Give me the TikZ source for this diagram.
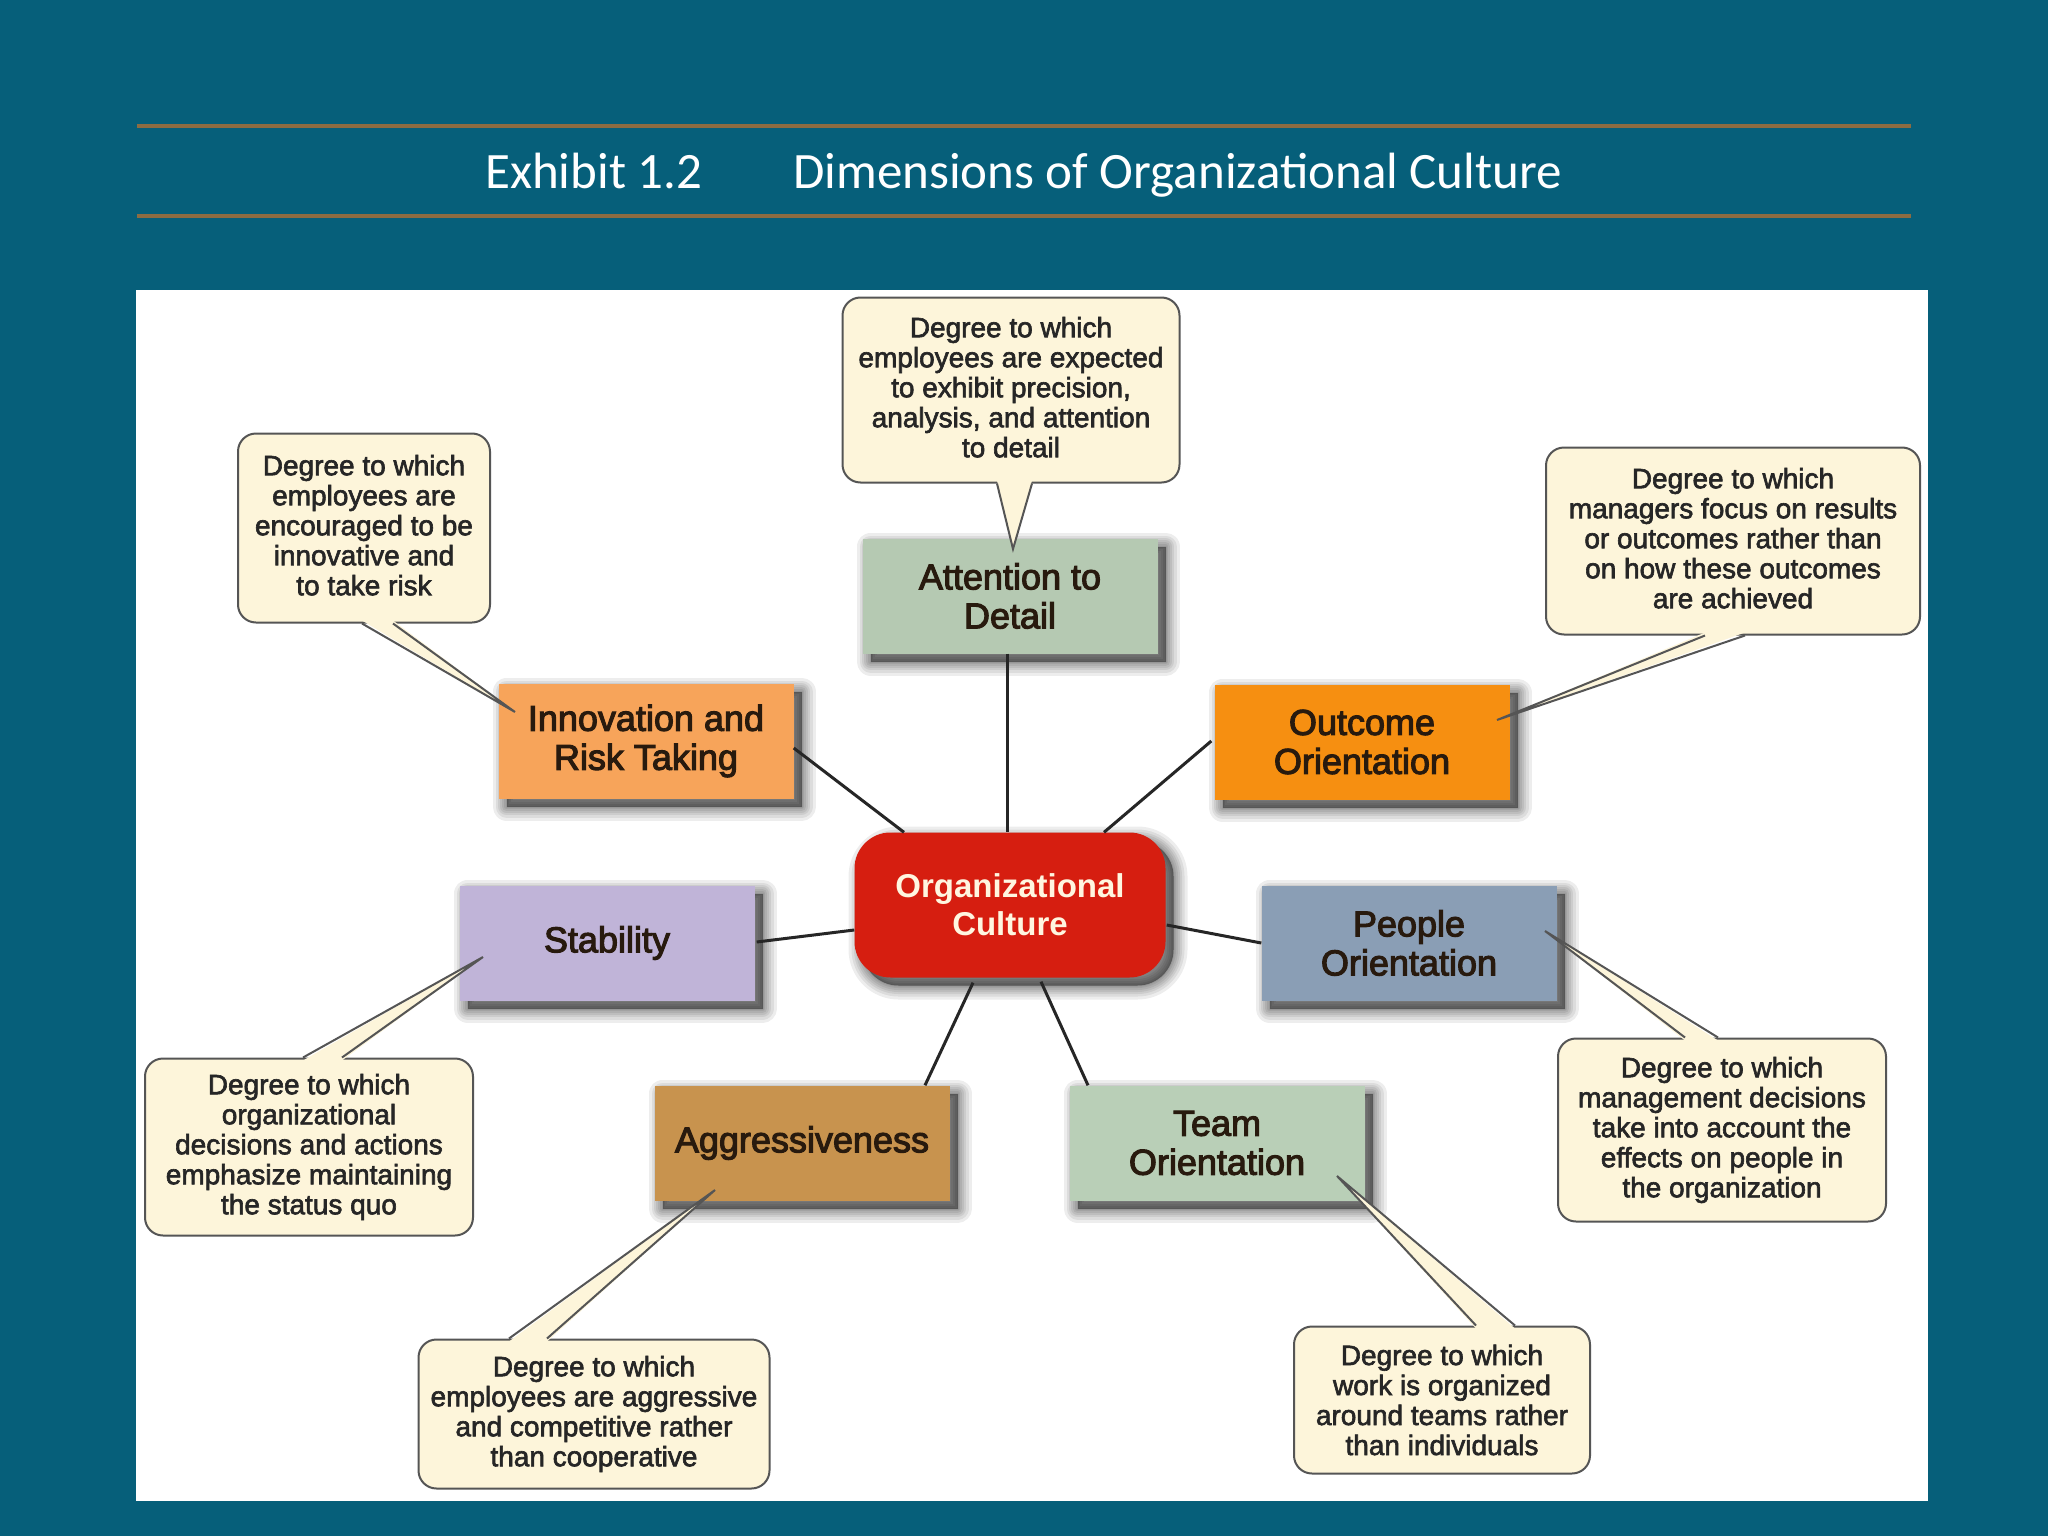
\documentclass[tikz,border=0pt]{standalone}
\usepackage{fontspec}
\setmainfont{Liberation Sans}
\newfontfamily\titlefont{Carlito}
\newfontfamily\callfont[FakeBold=2.2]{Liberation Sans}
\newfontfamily\boxfont[FakeBold=3]{Liberation Sans}
\newfontfamily\orgfont{Liberation Sans}
\usetikzlibrary{calc}
\definecolor{bgteal}{RGB}{6,95,122}
\definecolor{rulebrown}{RGB}{140,108,66}
\definecolor{callfill}{RGB}{253,245,218}
\definecolor{callline}{RGB}{85,85,85}
\definecolor{boxtext}{RGB}{40,26,14}
\definecolor{cAtt}{RGB}{181,201,178}
\definecolor{cInn}{RGB}{247,164,90}
\definecolor{cOut}{RGB}{246,143,17}
\definecolor{cOrg}{RGB}{214,30,16}
\definecolor{cStab}{RGB}{192,180,216}
\definecolor{cPeop}{RGB}{138,158,181}
\definecolor{cAggr}{RGB}{200,147,78}
\definecolor{cTeam}{RGB}{185,207,183}
\definecolor{orgtext}{RGB}{255,246,224}
\tikzset{
  shl/.style={preaction={draw=black, fill=black, draw opacity=0.07, fill opacity=0.07, line width=#1, line join=round, transform canvas={shift={(8pt,-8pt)}}}},
  softshadow/.style={shl=28pt, shl=22pt, shl=17pt, shl=13pt, shl=9pt, shl=5pt, shl=2pt},
  dimbox/.style={softshadow, rectangle, minimum width=295pt, minimum height=115pt, inner sep=0pt, align=center, text=boxtext, font=\boxfont\fontsize{36}{39}\selectfont},
  callout/.style={rectangle, rounded corners=18pt, fill=callfill, draw=callline, line width=2pt, inner sep=0pt, align=center, text=black!85, font=\callfont\fontsize{28}{30}\selectfont},
  tailfill/.style={fill=callfill},
  tailline/.style={draw=callline, line width=2pt, line join=miter},
  conn/.style={draw=black!85, line width=3pt},
  rulestyle/.style={draw=rulebrown, line width=4pt}
}
\begin{document}
\begin{tikzpicture}[x=1pt,y=-1pt]
\useasboundingbox (0,0) rectangle (2048,1536);
\fill[bgteal] (0,0) rectangle (2048,1536);
% title
\coordinate (rl1) at (137,126); \coordinate (rr1) at (1911,126);
\coordinate (rl2) at (137,216); \coordinate (rr2) at (1911,216);
\draw[rulestyle] (rl1) -- (rr1);
\draw[rulestyle] (rl2) -- (rr2);
\node[anchor=base west, inner sep=0pt, text=white, font=\titlefont\fontsize{51}{60}\selectfont] (t1) at (485,188) {Exhibit 1.2};
\node[anchor=base west, inner sep=0pt, text=white, font=\titlefont\fontsize{51}{60}\selectfont] (t2) at (793,188) {Dimensions of Organizational Culture};
% panel
\fill[white] (136,290) rectangle (1928,1501);
% centre node
\node[softshadow, rectangle, rounded corners=36pt, fill=cOrg, minimum width=311pt, minimum height=145pt, inner sep=0pt, align=center, text=orgtext, font=\orgfont\bfseries\fontsize{33}{38}\selectfont] (org) at (1010,905) {Organizational\\Culture};
% dimension boxes
\node[dimbox, fill=cAtt] (att) at (1010,596) {Attention to\\Detail};
\node[dimbox, fill=cInn] (inn) at (646,741) {Innovation and\\Risk Taking};
\node[dimbox, fill=cOut] (out) at (1362,742) {Outcome\\Orientation};
\node[dimbox, fill=cStab] (stab) at (607,943) {Stability};
\node[dimbox, fill=cPeop] (peop) at (1409,943) {People\\Orientation};
\node[dimbox, fill=cAggr] (aggr) at (802,1143) {Aggressiveness};
\node[dimbox, fill=cTeam] (team) at (1217,1143) {Team\\Orientation};
% connectors
\draw[conn] ($(att.south)+(-3,0)$) -- ($(org.north)+(-3,0)$);
\draw[conn] ($(inn.east)+(0,7)$) -- ($(org.north)+(-106,0)$);
\draw[conn] ($(out.west)+(-3,-1)$) -- ($(org.north)+(94,0)$);
\draw[conn] ($(stab.east)+(2,-1)$) -- ($(org.west)+(0,25)$);
\draw[conn] ($(org.east)+(1,20)$) -- ($(peop.west)+(0,0)$);
\draw[conn] ($(org.south)+(-37,5)$) -- ($(aggr.north)+(123,0)$);
\draw[conn] ($(org.south)+(31,4)$) -- ($(team.north)+(-129,0)$);
% callouts
\node[callout, minimum width=337pt, minimum height=185pt] (cA) at (1011,390) {Degree to which\\employees are expected\\to exhibit precision,\\analysis, and attention\\to detail\vphantom{g}};
\node[callout, minimum width=252pt, minimum height=189pt] (cI) at (364,528) {Degree to which\\employees are\\encouraged to be\\innovative and\\to take risk\vphantom{g}};
\node[callout, minimum width=374pt, minimum height=187pt] (cO) at (1733,541) {Degree to which\\managers focus on results\\or outcomes rather than\\on how these outcomes\\are achieved\vphantom{g}};
\node[callout, minimum width=328pt, minimum height=183pt] (cP) at (1722,1130) {Degree to which\\management decisions\\take into account the\\effects on people in\\the organization};
\node[callout, minimum width=328pt, minimum height=177pt] (cS) at (309,1147) {Degree to which\\organizational\\decisions and actions\\emphasize maintaining\\the status quo};
\node[callout, minimum width=351pt, minimum height=149pt] (cG) at (594,1414) {Degree to which\\employees are aggressive\\and competitive rather\\than cooperative};
\node[callout, minimum width=296pt, minimum height=147pt] (cT) at (1442,1400) {Degree to which\\work is organized\\around teams rather\\than individuals};
% tail tips
\coordinate (tA) at (1013,549);
\coordinate (tI) at (515,712);
\coordinate (tO) at (1497,720);
\coordinate (tP) at (1545,931);
\coordinate (tS) at (483,957);
\coordinate (tG) at (715,1190);
\coordinate (tT) at (1337,1176);
% tails: south-edge callouts
\fill[tailfill] ($(cA.south)+(-14,-3)$) -- (tA) -- ($(cA.south)+(21,-3)$) -- cycle;
\draw[tailline] ($(cA.south)+(-14,0)$) -- (tA) -- ($(cA.south)+(21,0)$);
\fill[tailfill] ($(cI.south)+(-2,-3)$) -- (tI) -- ($(cI.south)+(29,-3)$) -- cycle;
\draw[tailline] ($(cI.south)+(-2,0)$) -- (tI) -- ($(cI.south)+(29,0)$);
\fill[tailfill] ($(cO.south)+(-28,-3)$) -- (tO) -- ($(cO.south)+(12,-3)$) -- cycle;
\draw[tailline] ($(cO.south)+(-28,0)$) -- (tO) -- ($(cO.south)+(12,0)$);
% tails: north-edge callouts
\fill[tailfill] ($(cP.north)+(-37,3)$) -- (tP) -- ($(cP.north)+(-4,3)$) -- cycle;
\draw[tailline] ($(cP.north)+(-37,0)$) -- (tP) -- ($(cP.north)+(-4,0)$);
\fill[tailfill] ($(cS.north)+(-6,3)$) -- (tS) -- ($(cS.north)+(33,3)$) -- cycle;
\draw[tailline] ($(cS.north)+(-6,0)$) -- (tS) -- ($(cS.north)+(33,0)$);
\fill[tailfill] ($(cG.north)+(-85,3)$) -- (tG) -- ($(cG.north)+(-47,3)$) -- cycle;
\draw[tailline] ($(cG.north)+(-85,0)$) -- (tG) -- ($(cG.north)+(-47,0)$);
\fill[tailfill] ($(cT.north)+(34,3)$) -- (tT) -- ($(cT.north)+(73,3)$) -- cycle;
\draw[tailline] ($(cT.north)+(34,0)$) -- (tT) -- ($(cT.north)+(73,0)$);
\end{tikzpicture}
\end{document}
